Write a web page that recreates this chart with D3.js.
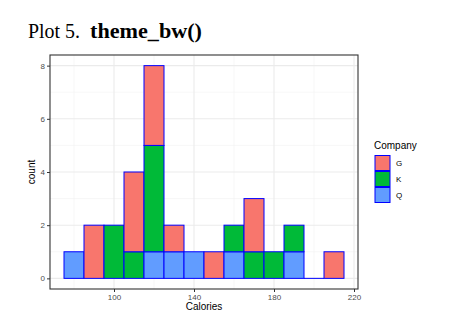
<!DOCTYPE html>
<html><head><meta charset="utf-8">
<script src="https://cdn.jsdelivr.net/npm/d3@7"></script>
<style>body{margin:0;background:#fff}</style>
</head><body>
<svg id="c" width="475" height="325"></svg>
<script>
const binCenters = [80,90,100,110,120,130,140,150,160,170,180,190,200,210];
const countG = [0,2,0,3,3,1,0,1,0,2,0,0,0,1];
const countK = [0,0,2,1,4,0,0,0,1,1,1,1,0,0];
const countQ = [1,0,0,0,1,1,1,0,1,0,0,1,0,0];
const companies = ["G","K","Q"];
const colors = ["#F8766D","#00BA38","#619CFF"];
const xTicks = [100,140,180,220];
const yTicks = [0,2,4,6,8];
const binWidth = 10;

const svg = d3.select("#c");
const L=50,R=358,T=55,B=289;
const x = d3.scaleLinear().domain([68,222]).range([L,R]);
const y = d3.scaleLinear().domain([-0.4,8.4]).range([B,T]);

const serif = "'Liberation Serif','DejaVu Serif',serif";
svg.append("text").attr("x",28).attr("y",38).attr("font-family",serif).attr("font-size",20)
  .attr("textLength",52).attr("lengthAdjust","spacingAndGlyphs").text("Plot 5.");
svg.append("text").attr("x",90).attr("y",38).attr("font-family",serif).attr("font-size",20).attr("font-weight","bold")
  .attr("textLength",112).attr("lengthAdjust","spacingAndGlyphs").text("theme_bw()");

const g = svg.append("g");
[80,120,160,200].forEach(v=>g.append("line").attr("x1",x(v)).attr("x2",x(v)).attr("y1",T).attr("y2",B).attr("stroke","#F2F2F2").attr("stroke-width",0.6));
[1,3,5,7].forEach(v=>g.append("line").attr("y1",y(v)).attr("y2",y(v)).attr("x1",L).attr("x2",R).attr("stroke","#F2F2F2").attr("stroke-width",0.6));
xTicks.forEach(v=>g.append("line").attr("x1",x(v)).attr("x2",x(v)).attr("y1",T).attr("y2",B).attr("stroke","#EBEBEB").attr("stroke-width",1.1));
yTicks.forEach(v=>g.append("line").attr("y1",y(v)).attr("y2",y(v)).attr("x1",L).attr("x2",R).attr("stroke","#EBEBEB").attr("stroke-width",1.1));

const series = {G:countG,K:countK,Q:countQ};
const order = ["Q","K","G"];
binCenters.forEach((c,i)=>{
  let base=0;
  const total = countG[i]+countK[i]+countQ[i];
  if(total===0){
    g.append("line").attr("x1",x(c-binWidth/2)).attr("x2",x(c+binWidth/2)).attr("y1",y(0)).attr("y2",y(0)).attr("stroke","blue").attr("stroke-width",1);
  }
  order.forEach(k=>{
    const v=series[k][i];
    if(v>0){
      g.append("rect").attr("x",x(c-binWidth/2)).attr("width",x(c+binWidth/2)-x(c-binWidth/2))
        .attr("y",y(base+v)).attr("height",y(base)-y(base+v))
        .attr("fill",colors[companies.indexOf(k)]).attr("stroke","blue").attr("stroke-width",1);
      base+=v;
    }
  });
});

svg.append("rect").attr("x",L).attr("y",T).attr("width",R-L).attr("height",B-T).attr("fill","none").attr("stroke","#333").attr("stroke-width",1.1);

const xa = svg.append("g").attr("transform",`translate(0,${B})`).call(d3.axisBottom(x).tickValues(xTicks).tickSize(3).tickPadding(2));
const ya = svg.append("g").attr("transform",`translate(${L},0)`).call(d3.axisLeft(y).tickValues(yTicks).tickSize(3).tickPadding(2));
[xa,ya].forEach(a=>{a.select(".domain").remove();a.selectAll("line").attr("stroke","#333");
  a.selectAll("text").attr("fill","#4D4D4D").attr("font-family","'Liberation Sans',Arial,sans-serif").attr("font-size",8);});

svg.append("text").attr("x",(L+R)/2).attr("y",310).attr("text-anchor","middle")
  .attr("font-family","'Liberation Sans',Arial,sans-serif").attr("font-size",10).text("Calories");
svg.append("text").attr("transform",`translate(35,${(T+B)/2}) rotate(-90)`).attr("text-anchor","middle")
  .attr("font-family","'Liberation Sans',Arial,sans-serif").attr("font-size",10).text("count");

const lg = svg.append("g");
lg.append("text").attr("x",374).attr("y",149).attr("font-family","'Liberation Sans',Arial,sans-serif").attr("font-size",10).text("Company");
companies.forEach((k,i)=>{
  lg.append("rect").attr("x",375).attr("y",155.5+i*16).attr("width",15).attr("height",15)
    .attr("fill",colors[i]).attr("stroke","blue").attr("stroke-width",1);
  lg.append("text").attr("x",396).attr("y",163+i*16).attr("dy","0.35em")
    .attr("font-family","'Liberation Sans',Arial,sans-serif").attr("font-size",8).text(k);
});
</script>
</body></html>
